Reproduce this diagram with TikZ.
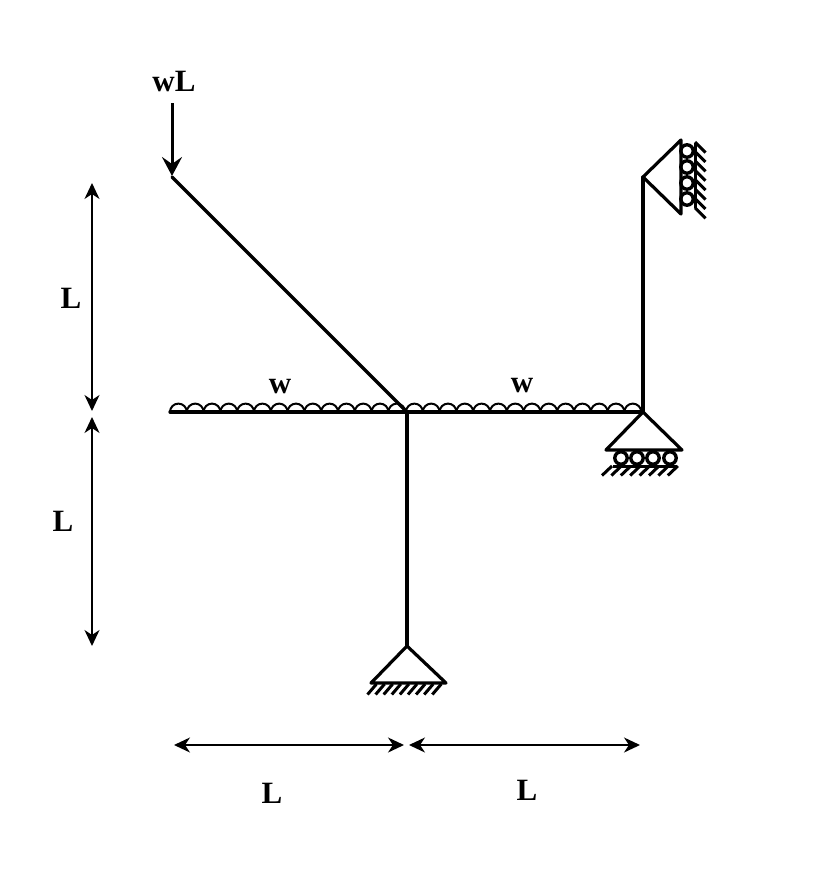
\documentclass[tikz,border=0pt]{standalone}
\usepackage{fontspec}
\setmainfont{Liberation Serif}
\usetikzlibrary{arrows.meta}
\tikzset{
  member/.style={line width=3.3pt,line cap=round,line join=miter},
  thin member/.style={line width=3.2pt,line cap=round,line join=round},
  hatch/.style={line width=3pt},
  roller/.style={line width=3.4pt,draw=black,fill=white},
  arc line/.style={line width=2pt},
  dim/.style={line width=2pt,{Stealth[length=16pt,width=15pt,inset=5pt]}-{Stealth[length=16pt,width=15pt,inset=5pt]}},
  load/.style={line width=3pt,-{Stealth[length=19pt,width=20pt,inset=7pt]}},
  lab/.style={font=\bfseries\fontsize{31}{33}\selectfont,inner sep=0pt},
  wlab/.style={font=\bfseries\fontsize{31}{33}\selectfont,inner sep=0pt}
}
\begin{document}
\begin{tikzpicture}[x=1pt,y=-1pt]
\useasboundingbox[fill=white] (0,0) rectangle (823,870);
\coordinate (tip) at (172,177);
\coordinate (loadstart) at (172,103);
\coordinate (left) at (170,412);
\coordinate (mid) at (407,412);
\coordinate (right) at (643,412);
\coordinate (base) at (407,646);
\coordinate (top) at (643,177);
% distributed load arcs
\foreach \i in {0,...,13}{
  \draw[arc line] ({170+\i*16.8},412) arc[start angle=180,end angle=360,radius=8.4];
  \draw[arc line] ({406+\i*16.8},412) arc[start angle=180,end angle=360,radius=8.4];
}
% members
\draw[member] (left) -- (right);
\draw[member] (tip) -- (mid);
\draw[member] (mid) -- (base);
\draw[member] (right) -- (top);
% load
\draw[load] (loadstart) -- (172,176);
% top right support
\foreach \y in {151,167,183,199}{ \draw[roller] (687,\y) circle[radius=6.2]; }
\draw[thin member] (top) -- (681,140) -- (681,214) -- cycle;
\draw[hatch] (695,143) -- (695,208);
\foreach \i in {0,...,7}{ \draw[hatch] (695,{142+\i*9.4}) -- (705.5,{152.5+\i*9.4}); }
% right bottom support
\foreach \x in {621,637,653,670}{ \draw[roller] (\x,458) circle[radius=6.2]; }
\draw[thin member] (right) -- (682,450) -- (606,450) -- cycle;
\draw[hatch] (613,466) -- (677,466);
\foreach \i in {0,...,7}{ \draw[hatch] ({612+\i*9.4},466) -- ({602+\i*9.4},475.5); }
% base support
\draw[thin member] (base) -- (446,683) -- (371,683) -- cycle;
\foreach \i in {0,...,8}{ \draw[hatch] ({376.5+\i*8.1},684) -- ({367.5+\i*8.1},694.5); }
% dimensions
\draw[dim] (92,183) -- (92,411);
\draw[dim] (92,417) -- (92,646);
\draw[dim] (174,745) -- (404,745);
\draw[dim] (409,745) -- (640,745);
% labels
\node[lab] (wl) at (174,82) {wL};
\node[lab] (l1) at (71,298) {L};
\node[lab] (l2) at (63,521) {L};
\node[lab] (l3) at (272,793) {L};
\node[lab] (l4) at (527,790) {L};
\node[wlab] (w1) at (280,387) {w};
\node[wlab] (w2) at (522,386) {w};
\end{tikzpicture}
\end{document}
